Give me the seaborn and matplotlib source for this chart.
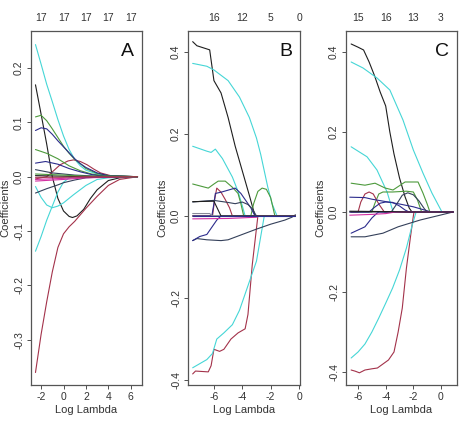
import matplotlib
matplotlib.use("Agg")
import matplotlib.pyplot as plt
import seaborn as sns
import pandas as pd

# colours of the coefficient paths
pal = {
    "black": "#1e1e1e",
    "red": "#a3324a",
    "green": "#4d9a3c",
    "navy": "#2c2c8c",
    "cyan": "#45d6d6",
    "magenta": "#d22fa2",
    "slate": "#34405a",
    "gray": "#8a8a9a",
}

# ---- panel A (ridge) : (colour, x points, coefficient values)
paths_A = [
    ("cyan", [-2.5, -2, -1.5, -1, -0.5, 0, 0.5, 1, 1.5, 2, 3, 4, 6.6],
             [0.243, 0.207, 0.17, 0.138, 0.105, 0.075, 0.05, 0.032, 0.02, 0.012, 0.005, 0.002, 0]),
    ("black", [-2.5, -2, -1.5, -1, -0.5, 0, 0.5, 0.8, 1.2, 1.8, 2.4, 3, 4, 5, 6.6],
              [0.169, 0.115, 0.06, 0.0, -0.04, -0.063, -0.073, -0.075, -0.072, -0.06, -0.04, -0.024, -0.007, -0.002, 0]),
    ("red", [-2.5, -2, -1.5, -1, -0.5, 0, 0.5, 1, 1.5, 2, 3, 4, 5, 6.6],
            [-0.36, -0.29, -0.23, -0.175, -0.13, -0.105, -0.092, -0.082, -0.07, -0.058, -0.036, -0.016, -0.005, 0]),
    ("red", [-2.5, -1.5, -1.1, -0.3, 0.4, 0.9, 1.5, 2.1, 2.7, 3.3, 4.2, 6.6],
            [-0.004, 0.0, 0.007, 0.022, 0.029, 0.031, 0.028, 0.022, 0.014, 0.007, 0.002, 0]),
    ("green", [-2.5, -2, -1.5, -1, -0.5, 0, 0.5, 1, 1.5, 2, 3, 4, 6.6],
              [0.11, 0.113, 0.103, 0.088, 0.072, 0.056, 0.043, 0.032, 0.024, 0.015, 0.006, 0.002, 0]),
    ("navy", [-2.5, -2, -1.5, -1, -0.5, 0, 0.5, 1, 1.5, 2, 3, 4, 6.6],
             [0.085, 0.09, 0.088, 0.078, 0.066, 0.055, 0.044, 0.033, 0.024, 0.017, 0.007, 0.002, 0]),
    ("green", [-2.5, -1.5, -0.5, 0.5, 1.5, 2.5, 3.5, 6.6],
              [0.05, 0.043, 0.033, 0.02, 0.011, 0.005, 0.002, 0]),
    ("navy", [-2.5, -1.6, -0.5, 0, 0.5, 1.5, 2.5, 3.5, 6.6],
             [0.025, 0.028, 0.023, 0.019, 0.015, 0.009, 0.004, 0.001, 0]),
    ("slate", [-2.5, -1, 1, 3, 6.6],
              [0.013, 0.007, 0.003, 0.001, 0]),
    ("cyan", [-2.5, -2, -1.5, -1, -0.5, 0, 0.9, 2, 3, 4, 6.6],
             [-0.018, -0.038, -0.052, -0.057, -0.054, -0.048, -0.033, -0.016, -0.005, -0.002, 0]),
    ("cyan", [-2.5, -2, -1.5, -1, -0.5, 0, 0.5, 1, 6.6],
             [-0.137, -0.11, -0.08, -0.054, -0.028, -0.01, -0.002, 0.0, 0]),
    ("slate", [-2.5, -1.5, -0.5, 0, 1, 2, 3, 6.6],
              [-0.03, -0.022, -0.015, -0.011, -0.006, -0.002, -0.001, 0]),
    ("magenta", [-2.5, 0, 2, 6.6], [-0.005, -0.003, -0.001, 0]),
    ("magenta", [-2.5, 0, 2, 6.6], [-0.008, -0.005, -0.002, 0]),
    ("black", [-2.5, 0, 2, 6.6], [0.002, 0.001, 0.0, 0]),
    ("green", [-2.5, 0, 2, 6.6], [0.005, 0.003, 0.001, 0]),
    ("red", [-2.5, 0, 2, 6.6], [-0.001, -0.001, 0.0, 0]),
]

# ---- panel B (lasso)
paths_B = [
    ("black", [-7.5, -7.2, -6.3, -6.0, -5.5, -5.0, -4.5, -4.0, -3.5, -3.1, -0.25],
              [0.425, 0.415, 0.405, 0.33, 0.3, 0.24, 0.17, 0.11, 0.05, 0.0, 0]),
    ("cyan", [-7.5, -6.5, -6, -5, -4.2, -3.5, -3, -2.7, -2.2, -1.9, -1.55, -0.25],
             [0.372, 0.365, 0.356, 0.33, 0.29, 0.24, 0.19, 0.15, 0.07, 0.03, 0.0, 0]),
    ("cyan", [-7.5, -6.5, -6.2, -5.9, -5.4, -4.7, -4.3, -4.0, -3.8, -0.25],
             [0.17, 0.158, 0.155, 0.163, 0.14, 0.095, 0.06, 0.025, 0.0, 0]),
    ("green", [-7.5, -6.4, -6.0, -5.7, -5.2, -4.7, -4.3, -4.1, -3.9, -0.25],
              [0.078, 0.068, 0.078, 0.085, 0.085, 0.07, 0.055, 0.03, 0.0, 0]),
    ("green", [-7.5, -3.4, -3.2, -2.9, -2.6, -2.3, -2.0, -1.7, -0.25],
              [0.0, 0.0, 0.03, 0.06, 0.068, 0.065, 0.045, 0.0, 0]),
    ("red", [-7.5, -6.1, -5.95, -5.8, -5.5, -5.2, -4.9, -4.7, -0.25],
            [0.0, 0.0, 0.04, 0.068, 0.058, 0.04, 0.02, 0.0, 0]),
    ("navy", [-7.5, -6.15, -6.0, -5.9, -5.5, -5.0, -4.5, -4.1, -3.8, -3.4, -3.1, -0.25],
             [0.0, 0.0, 0.03, 0.055, 0.058, 0.063, 0.068, 0.055, 0.04, 0.02, 0.0, 0]),
    ("slate", [-7.5, -6.5, -6.0, -5.0, -4.5, -4.0, -3.6, -3.3, -3.0, -0.25],
              [0.034, 0.037, 0.038, 0.033, 0.03, 0.034, 0.028, 0.018, 0.0, 0]),
    ("red", [-7.5, -7.3, -6.4, -6.2, -6.0, -5.6, -5.3, -4.8, -4.3, -3.8, -3.6, -3.3, -3.0, -2.9, -0.25],
            [-0.385, -0.378, -0.38, -0.365, -0.325, -0.33, -0.325, -0.3, -0.285, -0.275, -0.24, -0.12, -0.03, 0.0, 0]),
    ("cyan", [-7.5, -7.0, -6.5, -6.1, -5.8, -5.3, -4.7, -4.2, -3.6, -3.0, -2.7, -2.45, -0.25],
             [-0.37, -0.36, -0.35, -0.335, -0.3, -0.285, -0.265, -0.23, -0.17, -0.11, -0.05, 0.0, 0]),
    ("slate", [-7.5, -7.2, -6.5, -5.5, -5.0, -4.0, -3.0, -2.0, -1.0, -0.5, -0.25],
              [-0.06, -0.055, -0.058, -0.06, -0.058, -0.045, -0.032, -0.02, -0.01, -0.003, 0.003]),
    ("navy", [-7.5, -7.0, -6.5, -6.2, -5.8, -5.6, -5.5, -0.25],
             [-0.06, -0.05, -0.045, -0.03, -0.01, -0.003, 0.0, 0]),
    ("magenta", [-7.5, -5.0, -3.0, -2.9, -0.25],
                [-0.007, -0.006, -0.003, 0.0, 0]),
    ("gray", [-7.5, -6.3, -6.1, -0.25], [0.006, 0.006, 0.0, 0]),
    ("black", [-7.5, -6.0, -5.5, -0.25], [0.035, 0.036, 0.0, 0]),
    ("navy", [-7.5, -4.5, -1.5, -0.25], [0.0, 0.0, 0.0, 0]),
]

# ---- panel C (elastic net)
paths_C = [
    ("black", [-6.5, -6.0, -5.6, -5.2, -4.8, -4.4, -4.0, -3.7, -3.4, -3.0, -2.6, -2.3, -2.1, 0.9],
              [0.42, 0.412, 0.405, 0.375, 0.34, 0.3, 0.265, 0.2, 0.145, 0.085, 0.038, 0.01, 0.0, 0]),
    ("cyan", [-6.5, -5.64, -4.63, -3.7, -2.75, -2.0, -1.3, -0.65, 0.07, 0.9],
             [0.375, 0.36, 0.335, 0.305, 0.23, 0.155, 0.097, 0.047, 0.0, 0]),
    ("cyan", [-6.5, -5.35, -4.63, -3.9, -3.55, -3.45, 0.9],
             [0.163, 0.138, 0.105, 0.05, 0.01, 0.0, 0]),
    ("green", [-6.5, -5.5, -4.77, -4.05, -3.47, -2.6, -1.66, -1.3, -1.0, -0.8, 0.9],
              [0.072, 0.067, 0.072, 0.06, 0.055, 0.075, 0.075, 0.047, 0.02, 0.0, 0]),
    ("green", [-6.5, -5.0, -4.8, -4.5, -4.2, -3.5, -2.5, -2.0, -1.7, -1.4, 0.9],
              [0.0, 0.0, 0.02, 0.045, 0.05, 0.05, 0.052, 0.05, 0.03, 0.0, 0]),
    ("red", [-6.5, -6.0, -5.8, -5.5, -5.2, -4.9, -4.5, -4.1, 0.9],
            [0.0, 0.0, 0.025, 0.045, 0.05, 0.045, 0.02, 0.0, 0]),
    ("navy", [-6.6, -5.5, -5.0, -4.0, -3.0, -2.0, -1.2, -0.7, 0.9],
             [0.037, 0.036, 0.032, 0.026, 0.02, 0.013, 0.005, 0.0, 0]),
    ("slate", [-6.6, -3.6, -3.2, -2.8, -2.4, -2.0, -1.6, -1.2, -1.0, 0.9],
              [0.0, 0.0, 0.02, 0.042, 0.048, 0.043, 0.028, 0.008, 0.0, 0]),
    ("navy", [-6.6, -5.2, -4.8, -4.4, -4.0, -3.5, -3.0, -2.6, -2.3, 0.9],
             [0.0, 0.0, 0.012, 0.022, 0.025, 0.024, 0.015, 0.005, 0.0, 0]),
    ("red", [-6.5, -6.2, -5.9, -5.5, -5.0, -4.6, -4.2, -3.8, -3.4, -3.1, -2.8, -2.5, -2.2, -2.0, -1.95, 0.9],
            [-0.395, -0.398, -0.402, -0.395, -0.392, -0.39, -0.38, -0.37, -0.35, -0.3, -0.24, -0.14, -0.06, -0.01, 0.0, 0]),
    ("cyan", [-6.5, -6.0, -5.5, -5.0, -4.5, -4.0, -3.5, -3.0, -2.5, -2.1, -1.8, 0.9],
             [-0.365, -0.35, -0.33, -0.3, -0.265, -0.228, -0.19, -0.145, -0.09, -0.035, 0.0, 0]),
    ("slate", [-6.5, -5.5, -4.2, -3.1, -1.5, -0.07, 0.87],
              [-0.062, -0.062, -0.053, -0.037, -0.02, -0.008, 0.0]),
    ("navy", [-6.5, -5.5, -5.0, -4.63, -4.5, 0.9],
             [-0.053, -0.037, -0.015, -0.003, 0.0, 0]),
    ("magenta", [-6.6, -5.0, -4.0, -3.3, 0.9],
                [-0.008, -0.006, -0.004, 0.0, 0]),
    ("black", [-6.6, -4.0, -2.5, 0.9], [0.002, 0.001, 0.0, 0]),
]

xticks_A = [-2, 0, 2, 4, 6]
df_A = ["17", "17", "17", "17", "17"]
yticks_A = [-0.3, -0.2, -0.1, 0.0, 0.1, 0.2]

xticks_B = [-6, -4, -2, 0]
df_B = ["16", "12", "5", "0"]
yticks_B = [-0.4, -0.2, 0.0, 0.2, 0.4]

xticks_C = [-6, -4, -2, 0]
df_C = ["15", "16", "13", "3"]
yticks_C = [-0.4, -0.2, 0.0, 0.2, 0.4]


def to_frame(paths):
    rows = []
    for i, (col, xs, ys) in enumerate(paths):
        for x, y in zip(xs, ys):
            rows.append({"loglam": x, "coef": y, "var": f"v{i}", "col": col})
    return pd.DataFrame(rows)


sns.set_style("white")
plt.rcParams["font.family"] = ["Liberation Sans", "DejaVu Sans"]
plt.rcParams["axes.unicode_minus"] = False

fig = plt.figure(figsize=(4.74, 4.25), dpi=100)

panels = [
    ("A", paths_A, [0.0654, 0.0941, 0.2342, 0.833], (-2.9, 7.0), (-0.383, 0.268), xticks_A, df_A, yticks_A),
    ("B", paths_B, [0.3966, 0.0941, 0.2363, 0.833], (-7.83, 0.07), (-0.412, 0.451), xticks_B, df_B, yticks_B),
    ("C", paths_C, [0.7300, 0.0941, 0.2342, 0.833], (-6.87, 1.16), (-0.4325, 0.4525), xticks_C, df_C, yticks_C),
]

for letter, paths, rect, xl, yl, xt, dft, yt in panels:
    ax = fig.add_axes(rect)
    d = to_frame(paths)
    cmap = {f"v{i}": pal[p[0]] for i, p in enumerate(paths)}
    sns.lineplot(data=d, x="loglam", y="coef", hue="var", palette=cmap,
                 estimator=None, sort=False, legend=False, linewidth=0.8, ax=ax)
    ax.set_xlim(*xl)
    ax.set_ylim(*yl)
    ax.set_xticks(xt)
    ax.set_xticklabels([str(t) for t in xt])
    ax.set_yticks(yt)
    ax.set_yticklabels([f"{t:.1f}" for t in yt], rotation=90, va="center")
    ax.tick_params(axis="both", labelsize=7.5, colors="#333333", length=3,
                   width=0.6, direction="out", bottom=True, left=True, pad=2)
    ax.set_xlabel("Log Lambda", fontsize=8, color="#333333", labelpad=2)
    ax.set_ylabel("Coefficients", fontsize=8, color="#333333", labelpad=3)
    for s in ax.spines.values():
        s.set_color("#555555")
        s.set_linewidth(0.9)
    top = ax.secondary_xaxis("top")
    top.set_xticks(xt)
    top.set_xticklabels(dft)
    top.tick_params(length=0, labelsize=7.5, colors="#333333", pad=6)
    top.spines["top"].set_visible(False)
    ax.text(0.93, 0.965, letter, transform=ax.transAxes, ha="right", va="top",
            fontsize=14, color="#111111")

fig.savefig("out.png", dpi=100)
